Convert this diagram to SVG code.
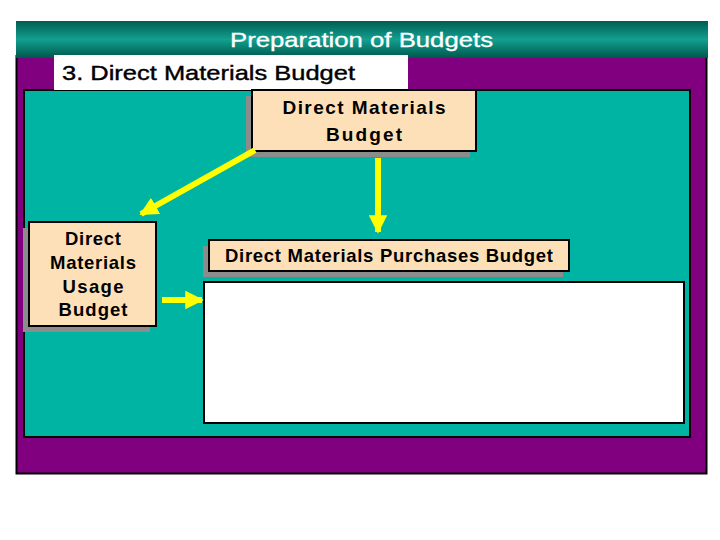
<svg xmlns="http://www.w3.org/2000/svg" width="720" height="540" viewBox="0 0 720 540">
<defs>
<linearGradient id="tg" x1="0" y1="0" x2="0" y2="1">
<stop offset="0" stop-color="#005c52"/>
<stop offset="0.5" stop-color="#12a090"/>
<stop offset="1" stop-color="#00564c"/>
</linearGradient>
<marker id="ah" viewBox="0 0 10 10" refX="9" refY="5" markerWidth="3.1" markerHeight="3.1" orient="auto" markerUnits="strokeWidth">
<path d="M0,0 L10,5 L0,10 Z" fill="#ffff00"/>
</marker>
<style>
.node{fill:#fde0b8;stroke:#000;stroke-width:2}
.shadow{fill:#8c8c8c}
.t{font-family:"Liberation Sans",Arial,sans-serif;fill:#000;text-anchor:middle;font-weight:bold}
.conn{stroke:#ffff00;stroke-width:6;fill:none;marker-end:url(#ah)}
</style>
</defs>
<rect width="720" height="540" fill="#fff"/>
<g id="frame">
<rect x="16.5" y="56" width="690" height="417.5" fill="#800080" stroke="#000" stroke-width="2"/>
<rect x="16" y="21" width="692" height="37" fill="url(#tg)"/>
<text x="230" y="46.5" font-family="'Liberation Sans',Arial,sans-serif" font-size="20.5" fill="#fff" stroke="#fff" stroke-width="0.3" textLength="263" lengthAdjust="spacingAndGlyphs">Preparation of Budgets</text>
<rect x="24" y="90" width="666" height="347" fill="#00b4a4" stroke="#000" stroke-width="2"/>
<rect x="54" y="55" width="354" height="35" fill="#fff"/>
<text x="62" y="80" font-family="'Liberation Sans',Arial,sans-serif" font-size="21" fill="#000" stroke="#000" stroke-width="0.4" textLength="293" lengthAdjust="spacingAndGlyphs">3. Direct Materials Budget</text>
</g>
<g id="node-dmb">
<rect class="shadow" x="246" y="96" width="224" height="61"/>
<rect class="node" x="252" y="90" width="224" height="61"/>
<text class="t" x="364" y="114" font-size="19" textLength="163" lengthAdjust="spacing">Direct Materials</text>
<text class="t" x="364" y="141" font-size="19" textLength="76" lengthAdjust="spacing">Budget</text>
</g>
<g id="node-usage">
<rect class="shadow" x="23" y="228" width="127" height="104"/>
<rect class="node" x="29" y="222" width="127" height="104"/>
<text class="t" x="93" y="245" font-size="18.5" textLength="56" lengthAdjust="spacing">Direct</text>
<text class="t" x="93" y="269" font-size="18.5" textLength="86" lengthAdjust="spacing">Materials</text>
<text class="t" x="93" y="293" font-size="18.5" textLength="61" lengthAdjust="spacing">Usage</text>
<text class="t" x="93" y="316" font-size="18.5" textLength="69" lengthAdjust="spacing">Budget</text>
</g>
<g id="node-purchases">
<rect class="shadow" x="203" y="246" width="360" height="31"/>
<rect class="node" x="209" y="240" width="360" height="31"/>
<text class="t" x="389" y="262" font-size="18.5" textLength="328" lengthAdjust="spacing">Direct Materials Purchases Budget</text>
</g>
<g id="table">
<rect x="204" y="282" width="480" height="141" fill="#fff" stroke="#000" stroke-width="2"/>
</g>
<g id="connectors">
<line class="conn" x1="255" y1="150" x2="141" y2="214"/>
<line class="conn" x1="378" y1="158" x2="378" y2="232"/>
<line class="conn" x1="162" y1="300" x2="202" y2="300"/>
</g>
</svg>
